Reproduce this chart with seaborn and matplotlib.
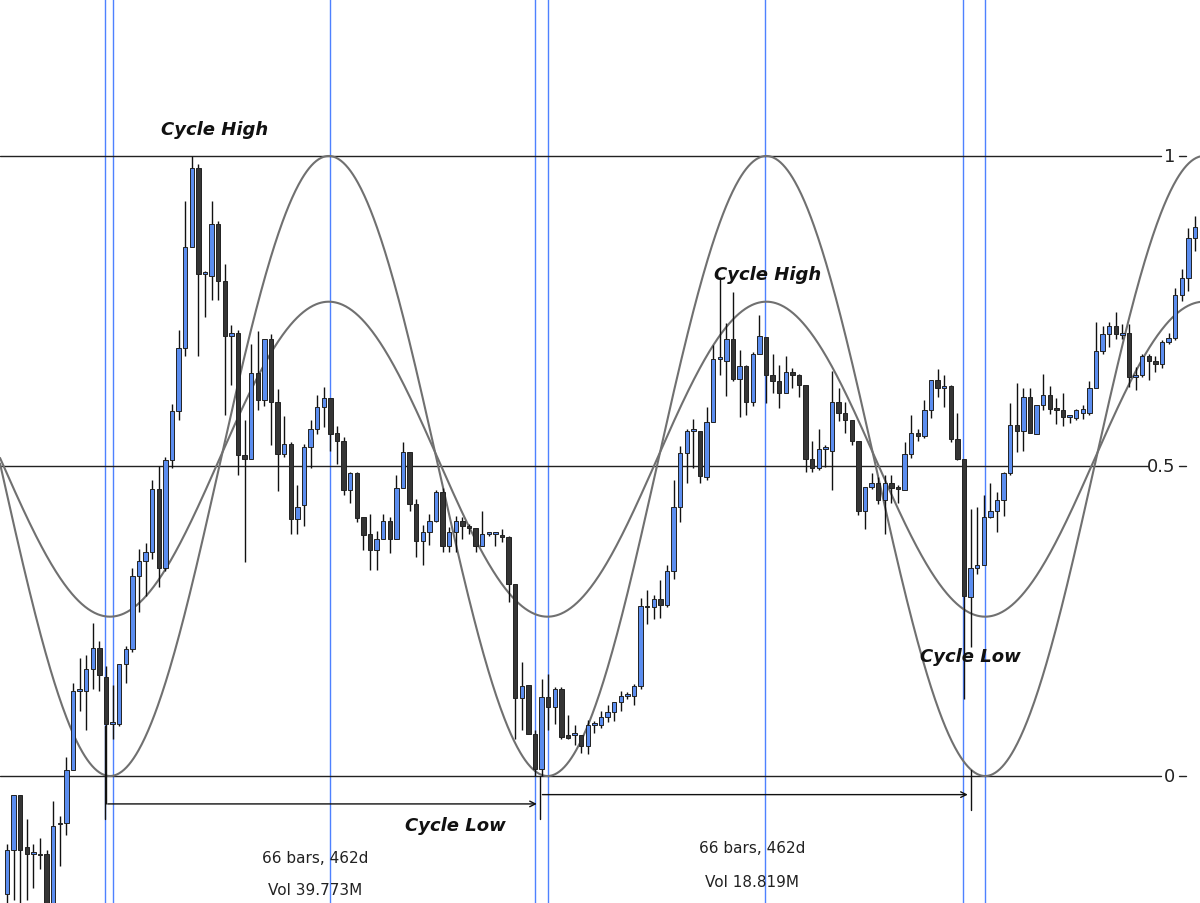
import numpy as np
import pandas as pd
import matplotlib
matplotlib.use("Agg")
import matplotlib.pyplot as plt
import seaborn as sns

# ---- data (price in 0..1 cycle units, one row per weekly bar) ----
opens = [-0.19,-0.12,-0.03,-0.115,-0.125,-0.125,-0.125,-0.21,-0.078,-0.075,0.01,0.137,0.137,0.173,0.206,0.16,0.084,0.084,0.18,0.205,
         0.322,0.347,0.362,0.463,0.335,0.51,0.589,0.69,0.853,0.98,0.81,0.807,0.89,0.798,0.709,0.715,0.518,0.512,0.65,0.607,
         0.705,0.603,0.52,0.536,0.415,0.437,0.531,0.559,0.595,0.609,0.553,0.541,0.461,0.489,0.418,0.39,0.364,0.383,0.412,0.383,
         0.465,0.523,0.438,0.379,0.394,0.411,0.458,0.371,0.394,0.411,0.404,0.4,0.371,0.391,0.39,0.389,0.385,0.31,0.126,0.146,
         0.067,0.011,0.127,0.111,0.14,0.066,0.066,0.066,0.048,0.083,0.083,0.095,0.103,0.12,0.129,0.129,0.145,0.274,0.272,0.285,
         0.276,0.33,0.434,0.521,0.556,0.556,0.482,0.571,0.672,0.669,0.705,0.64,0.661,0.603,0.681,0.708,0.646,0.637,0.617,0.652,
         0.646,0.631,0.511,0.497,0.527,0.525,0.603,0.586,0.575,0.541,0.428,0.466,0.473,0.445,0.473,0.464,0.462,0.52,0.554,0.548,
         0.591,0.638,0.626,0.629,0.543,0.511,0.289,0.335,0.34,0.418,0.427,0.445,0.488,0.566,0.556,0.611,0.552,0.599,0.615,0.592,
         0.59,0.579,0.578,0.585,0.585,0.626,0.685,0.713,0.726,0.711,0.714,0.643,0.647,0.677,0.67,0.665,0.7,0.706,0.775,0.803,0.868]
closes = [-0.12,-0.03,-0.12,-0.125,-0.125,-0.128,-0.21,-0.08,-0.075,0.01,0.137,0.137,0.173,0.206,0.163,0.084,0.084,0.18,0.205,0.322,
          0.347,0.362,0.463,0.335,0.51,0.589,0.69,0.853,0.98,0.81,0.81,0.89,0.798,0.709,0.715,0.518,0.512,0.65,0.607,0.705,
          0.603,0.52,0.536,0.415,0.434,0.531,0.559,0.595,0.609,0.552,0.541,0.461,0.489,0.416,0.389,0.364,0.383,0.412,0.383,0.465,
          0.523,0.438,0.379,0.394,0.411,0.458,0.371,0.394,0.411,0.404,0.4,0.371,0.391,0.391,0.39,0.385,0.31,0.126,0.145,0.067,
          0.011,0.127,0.111,0.14,0.063,0.062,0.066,0.048,0.083,0.084,0.095,0.103,0.12,0.129,0.129,0.145,0.274,0.272,0.285,0.276,
          0.33,0.434,0.521,0.556,0.556,0.484,0.571,0.673,0.672,0.705,0.64,0.661,0.603,0.681,0.71,0.647,0.637,0.617,0.652,0.646,
          0.631,0.511,0.497,0.527,0.527,0.603,0.586,0.575,0.541,0.428,0.466,0.473,0.445,0.473,0.465,0.463,0.52,0.554,0.548,0.591,
          0.638,0.626,0.629,0.543,0.511,0.29,0.335,0.34,0.418,0.427,0.445,0.488,0.566,0.556,0.611,0.554,0.599,0.615,0.592,0.59,
          0.579,0.579,0.591,0.592,0.626,0.685,0.713,0.726,0.713,0.714,0.643,0.647,0.677,0.67,0.665,0.7,0.706,0.775,0.803,0.868,0.886]
highs = [-0.11,-0.03,-0.03,-0.07,-0.11,-0.10,-0.12,-0.04,-0.065,0.03,0.15,0.19,0.195,0.247,0.218,0.177,0.147,0.18,0.21,0.335,
         0.366,0.376,0.478,0.5,0.515,0.6,0.72,0.927,1.0,0.987,0.815,0.927,0.895,0.825,0.727,0.72,0.575,0.696,0.717,0.705,
         0.713,0.625,0.58,0.538,0.47,0.536,0.574,0.615,0.627,0.609,0.565,0.547,0.491,0.491,0.418,0.422,0.395,0.422,0.418,0.485,
         0.539,0.523,0.446,0.405,0.423,0.462,0.465,0.402,0.42,0.418,0.407,0.4,0.427,0.394,0.393,0.399,0.387,0.31,0.184,0.146,
         0.075,0.157,0.165,0.143,0.143,0.099,0.082,0.066,0.091,0.088,0.105,0.115,0.12,0.137,0.136,0.149,0.287,0.3,0.292,0.316,
         0.341,0.478,0.533,0.56,0.576,0.556,0.595,0.695,0.805,0.731,0.781,0.687,0.663,0.684,0.744,0.708,0.68,0.663,0.678,0.658,
         0.649,0.631,0.541,0.56,0.534,0.653,0.626,0.604,0.575,0.541,0.466,0.489,0.482,0.485,0.486,0.47,0.539,0.583,0.56,0.606,
         0.638,0.656,0.646,0.63,0.586,0.511,0.431,0.434,0.453,0.472,0.458,0.49,0.601,0.634,0.626,0.626,0.599,0.649,0.629,0.61,
         0.617,0.583,0.592,0.599,0.637,0.733,0.726,0.733,0.748,0.729,0.729,0.66,0.68,0.681,0.678,0.704,0.715,0.787,0.817,0.884,0.903]
lows = [-0.22,-0.2,-0.22,-0.2,-0.18,-0.15,-0.22,-0.22,-0.145,-0.095,0.01,0.105,0.075,0.14,0.137,-0.045,0.06,0.08,0.15,0.2,
        0.265,0.29,0.35,0.305,0.33,0.497,0.575,0.677,0.853,0.678,0.74,0.768,0.768,0.583,0.63,0.486,0.345,0.512,0.59,0.597,
        0.534,0.46,0.515,0.39,0.39,0.404,0.497,0.552,0.563,0.524,0.504,0.453,0.441,0.409,0.364,0.332,0.332,0.383,0.359,0.383,
        0.465,0.427,0.353,0.341,0.373,0.409,0.362,0.362,0.361,0.382,0.39,0.362,0.371,0.387,0.371,0.378,0.28,0.06,0.074,0.067,
        0.0,0.0,0.074,0.084,0.06,0.059,0.05,0.037,0.035,0.07,0.078,0.087,0.088,0.105,0.124,0.115,0.141,0.245,0.253,0.255,
        0.273,0.317,0.409,0.473,0.497,0.472,0.477,0.571,0.646,0.613,0.637,0.579,0.583,0.597,0.681,0.602,0.618,0.594,0.617,0.626,
        0.611,0.491,0.491,0.493,0.498,0.461,0.572,0.554,0.534,0.421,0.399,0.463,0.439,0.391,0.441,0.44,0.462,0.513,0.541,0.545,
        0.577,0.611,0.595,0.538,0.509,0.125,0.208,0.326,0.34,0.416,0.394,0.419,0.485,0.522,0.524,0.554,0.552,0.591,0.584,0.568,
        0.565,0.57,0.575,0.576,0.583,0.626,0.681,0.692,0.705,0.705,0.627,0.622,0.643,0.638,0.652,0.658,0.696,0.703,0.766,0.783,0.846]

cycle_period = [66.3, 66.3]          # bars
cycle_trough = [15.6, 15.6]          # bar index of first trough
cycle_amp = [0.5, 0.254]
cycle_mid = [0.5, 0.511]
vlines_bar = [14.85, 16.06, 48.9, 80.0, 82.0, 114.8, 144.8, 148.2]
levels = [1.0, 0.5, 0.0]
level_labels = ["1", "0.5", "0"]

df = pd.DataFrame({"i": np.arange(len(opens)), "o": opens, "c": closes, "h": highs, "l": lows})

sns.set_style("white")
fig = plt.figure(figsize=(12, 9.04), dpi=100)
ax = fig.add_axes([0, 0, 1, 1])
xmin, xmax = -1.06, 180.76
ymin, ymax = -0.2048, 1.2532
ax.set_xlim(xmin, xmax)
ax.set_ylim(ymin, ymax)
ax.axis("off")

for v in vlines_bar:
    ax.axvline(v, color="#2F6BFF", lw=1.0, alpha=0.85, zorder=1)

for lv, lab in zip(levels, level_labels):
    ax.plot([xmin, 172.9 if lab == "0.5" else 174.8], [lv, lv], color="#222222", lw=1.0, zorder=1)
    ax.text(177.0, lv, lab, ha="right", va="center", fontsize=13, color="#222222")
    ax.plot([177.6, 178.6], [lv, lv], color="#222222", lw=1.0)

xs = np.linspace(xmin, xmax, 1500)
for p, t, a, m in zip(cycle_period, cycle_trough, cycle_amp, cycle_mid):
    ys = m - a * np.cos(2 * np.pi * (xs - t) / p)
    sns.lineplot(x=xs, y=ys, ax=ax, color="#707070", lw=1.5, zorder=2)

up = df["c"] >= df["o"]
ax.vlines(df["i"], df["l"], df["h"], color="#111111", lw=1.0, zorder=3)
bottoms = np.minimum(df["o"], df["c"])
heights = np.maximum(np.abs(df["c"] - df["o"]), 0.003)
ax.bar(df["i"][up], heights[up], bottom=bottoms[up], width=0.66,
       color="#5B8DEF", edgecolor="#222222", lw=0.7, zorder=4)
ax.bar(df["i"][~up], heights[~up], bottom=bottoms[~up], width=0.66,
       color="#353535", edgecolor="#222222", lw=0.7, zorder=4)

ax.plot([14.85, 14.85], [0.08, -0.07], color="#111111", lw=1, zorder=5)
ax.annotate("", xy=(80.7, -0.045), xytext=(14.85, -0.045),
            arrowprops=dict(arrowstyle="->", color="#111111", lw=1))
ax.plot([80.7, 80.7], [0.0, -0.07], color="#111111", lw=1, zorder=5)
ax.annotate("", xy=(146.0, -0.03), xytext=(80.7, -0.03),
            arrowprops=dict(arrowstyle="->", color="#111111", lw=1))
ax.plot([146.0, 146.0], [0.01, -0.055], color="#111111", lw=1, zorder=5)

kw = dict(fontsize=13, fontweight="bold", fontstyle="italic", ha="center", va="center", color="#111111", zorder=6)
ax.text(31.5, 1.043, "Cycle High", **kw)
ax.text(115.3, 0.81, "Cycle High", **kw)
ax.text(68.0, -0.079, "Cycle Low", **kw)
ax.text(146.0, 0.194, "Cycle Low", **kw)
sk = dict(fontsize=11, ha="center", va="center", color="#222222")
ax.text(46.7, -0.131, "66 bars, 462d", **sk)
ax.text(46.7, -0.183, "Vol 39.773M", **sk)
ax.text(112.9, -0.115, "66 bars, 462d", **sk)
ax.text(112.9, -0.170, "Vol 18.819M", **sk)

fig.savefig("out.png", dpi=100)
